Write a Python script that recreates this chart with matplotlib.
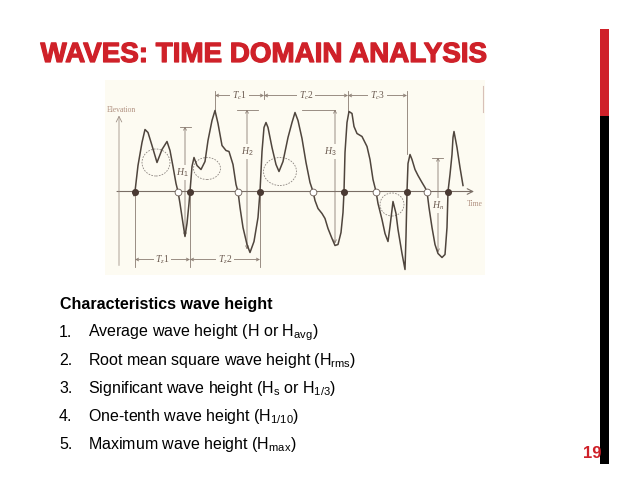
import matplotlib
matplotlib.use("Agg")
import matplotlib.pyplot as plt
from matplotlib.patches import Ellipse, Rectangle
import matplotlib.patheffects as pe

plt.rcParams['font.family'] = ['Liberation Sans', 'DejaVu Sans']
plt.rcParams['mathtext.fontset'] = 'custom'
plt.rcParams['mathtext.rm'] = 'Liberation Sans'
plt.rcParams['mathtext.it'] = 'Liberation Serif:italic'
plt.rcParams['mathtext.bf'] = 'Liberation Sans:bold'

# ---------------- data ----------------
wave_time = [1.5, 1.6, 1.9, 2.3, 2.6, 2.9, 3.3, 3.8, 4.3, 4.8, 5.1, 5.4, 5.7, 5.9,
             6.1, 6.4, 6.6, 6.8, 7.0, 7.1, 7.3, 7.5, 7.8, 8.2, 8.6, 8.9, 9.3, 9.6,
             9.9, 10.3, 10.7, 11.0, 11.4, 11.7, 11.9, 12.1, 12.4, 12.8, 13.1, 13.5,
             13.9, 14.1, 14.3, 14.5, 14.7, 14.9, 15.3, 15.7, 16.0, 16.4, 16.9, 17.3,
             17.6, 17.9, 18.3, 18.7, 19.1, 19.4, 19.6, 19.9, 20.3, 20.6, 20.9, 21.3,
             21.6, 21.9, 22.2, 22.4, 22.5, 22.6, 22.8, 23.0, 23.3, 23.5, 23.8, 24.3,
             24.8, 25.1, 25.4, 25.7, 25.9, 26.3, 26.6, 26.9, 27.1, 27.4, 27.7, 27.9,
             28.3, 28.6, 28.7, 28.8, 28.9, 29.1, 29.3, 29.6, 29.9, 30.3, 30.6, 30.8,
             31.0, 31.3, 31.6, 31.9, 32.3, 32.6, 32.8, 32.9, 33.1, 33.3, 33.4, 33.5,
             33.8, 34.1, 34.4]
wave_elev = [-0.4, 0.0, 2.6, 4.9, 6.2, 5.9, 4.6, 2.9, 4.2, 5.0, 4.1, 2.5, 0.8, 0.0,
             -1.2, -3.2, -4.5, -3.2, -1.2, 0.0, 2.5, 3.4, 2.6, 2.2, 3.0, 5.1, 7.1, 8.1,
             6.8, 4.6, 4.1, 4.0, 2.7, 0.7, 0.0, -1.6, -3.6, -5.3, -6.1, -5.0,
             -2.6, 0.0, 4.0, 6.4, 6.9, 6.4, 4.4, 2.7, 2.0, 3.0, 5.4, 6.9,
             7.9, 7.1, 5.3, 2.9, 0.9, 0.0, -0.9, -1.7, -2.2, -2.7, -3.7, -4.7,
             -5.4, -5.3, -4.1, -2.1, 0.0, 3.9, 6.9, 8.0, 7.8, 6.5, 5.8, 5.5,
             4.5, 3.2, 1.2, 0.0, -1.2, -2.8, -4.2, -5.0, -3.5, -1.0, -2.2, -3.8,
             -6.2, -7.8, -4.5, 0.0, 2.8, 3.7, 3.2, 2.2, 1.6, 0.9, 0.4, 0.0,
             -1.6, -3.6, -5.3, -6.2, -6.6, -6.3, -3.6, 0.0, 1.7, 3.7, 5.4, 6.0,
             4.4, 2.4, 0.6]

up_crossings = [1.6, 7.1, 14.1, 22.5, 28.8, 32.9]
down_crossings = [5.9, 11.9, 19.4, 25.7, 30.8]

crest_marks = [9.6, 14.5, 22.9, 28.8]          # T_c boundaries
crest_mark_bottom = [8.1, 9.3, 8.0, 3.8]
tc_labels = ['$T_c$1', '$T_c$2', '$T_c$3']
tz_labels = ['$T_z$1', '$T_z$2']

h_time = [6.6, 12.8, 21.6, 31.9]
h_top = [6.5, 8.2, 8.2, 3.4]
h_bottom = [-4.5, -5.8, -5.2, -6.1]
h_cap_from = [6.1, 11.8, 18.3, 31.3]
h_cap_to = [7.2, 13.9, 21.6, 32.4]
h_labels = ['$H_1$', '$H_2$', '$H_3$', '$H_n$']
h_label_t = [6.3, 12.8, 21.1, 31.9]
h_label_e = [1.9, 4.0, 4.0, -1.4]

ell_t = [3.7, 8.8, 16.1, 27.3]
ell_e = [2.9, 2.3, 2.0, -1.3]
ell_w = [2.8, 2.7, 3.3, 2.4]
ell_h = [2.7, 2.2, 2.8, 2.3]

items = ['Average wave height (H or H$_\\mathrm{avg}$)',
         'Root mean square wave height (H$_\\mathrm{rms}$)',
         'Significant wave height (H$_\\mathrm{s}$ or H$_\\mathrm{1/3}$)',
         'One-tenth wave height (H$_\\mathrm{1/10}$)',
         'Maximum wave height (H$_\\mathrm{max}$)']

RED = '#cf2129'
W, H = 638, 493
fig = plt.figure(figsize=(W / 100, H / 100), dpi=100)
fig.patch.set_facecolor('white')

# ---------------- slide overlay ----------------
ov = fig.add_axes([0, 0, 1, 1])
ov.set_xlim(0, W)
ov.set_ylim(H, 0)
ov.axis('off')
ov.add_patch(Rectangle((600, 29), 9, 87, color=RED, lw=0))
ov.add_patch(Rectangle((600, 116), 9, 348, color='black', lw=0))
ov.text(40.5, 62, 'WAVES: TIME DOMAIN ANALYSIS', color=RED, fontsize=20,
        fontweight='bold', ha='left', va='baseline',
        path_effects=[pe.withStroke(linewidth=0.9, foreground=RED)])
ov.text(601, 458, '19', color=RED, fontsize=12, fontweight='bold',
        ha='right', va='baseline')
ov.text(60, 309, 'Characteristics wave height', fontsize=11.5,
        fontweight='bold', ha='left', va='baseline', color='black')
for i, s in enumerate(items):
    yb = 337 + 28 * i
    ov.text(59, yb, f'{i + 1}.', fontsize=11.5, ha='left', va='baseline')
    ov.text(88, yb, s, fontsize=11.5, ha='left', va='baseline')

# ---------------- scanned-figure axes ----------------
x0, y0, x1, y1 = 105, 80, 485, 275
ax = fig.add_axes([x0 / W, (H - y1) / H, (x1 - x0) / W, (y1 - y0) / H])
BG = '#fdfbf2'
ax.set_facecolor(BG)
ax.set_xlim(-1.4, 36.6)
ax.set_ylim(-8.35, 11.15)
for sp in ax.spines.values():
    sp.set_visible(False)
ax.set_xticks([])
ax.set_yticks([])

LC = '#4f453d'
AC = '#8a7c72'
TC = '#6b5a50'

# axes of the sketch
ax.annotate('', xy=(35.5, 0), xytext=(-0.2, 0),
            arrowprops=dict(arrowstyle='->', lw=0.8, color='#7a6e66',
                            shrinkA=0, shrinkB=0))
ax.annotate('', xy=(0, 7.6), xytext=(0, -7.4),
            arrowprops=dict(arrowstyle='->', lw=0.6, color='#a09288',
                            shrinkA=0, shrinkB=0))
ax.text(-1.2, 8.2, 'Elevation', fontsize=5.5, color='#b09080',
        family='Liberation Serif', ha='left', va='center')
ax.text(34.8, -1.3, 'Time', fontsize=5.5, color='#b09080',
        family='Liberation Serif', ha='left', va='center')
ax.plot([36.4, 36.4], [8.0, 10.6], color='#d8c0b8', lw=0.8)

# wave record
ax.plot(wave_time, wave_elev, color=LC, lw=1.1, zorder=4)

# dashed ellipses
for t, e, w, h in zip(ell_t, ell_e, ell_w, ell_h):
    ax.add_patch(Ellipse((t, e), w, h, fill=False, ls=(0, (2, 1.5)),
                         lw=0.6, ec='#8c8580', zorder=3))

# crossing markers
ax.scatter(up_crossings, [0] * len(up_crossings), s=26, color='#4a3a33',
           zorder=6, lw=0)
ax.scatter(down_crossings, [0] * len(down_crossings), s=24, facecolor='white',
           edgecolor='#6b5d55', lw=0.6, zorder=6)

# T_z dimension line
tz_e = -6.8
for t in up_crossings[:3]:
    ax.plot([t, t], [0, -7.5], color=AC, lw=0.6, zorder=2)
for i in range(2):
    a, b = up_crossings[i], up_crossings[i + 1]
    ax.annotate('', xy=(b, tz_e), xytext=(a, tz_e),
                arrowprops=dict(arrowstyle='<->', lw=0.6, color=AC,
                                shrinkA=0, shrinkB=0, mutation_scale=5))
    ax.text((a + b) / 2, tz_e, tz_labels[i], fontsize=7, color=TC,
            family='Liberation Serif', ha='center', va='center',
            bbox=dict(fc=BG, ec='none', pad=1.2), zorder=5)

# T_c dimension line
tc_e = 9.6
for t, bot in zip(crest_marks, crest_mark_bottom):
    ax.plot([t, t], [10.1, bot], color=AC, lw=0.6, zorder=2)
for i in range(3):
    a, b = crest_marks[i], crest_marks[i + 1]
    ax.annotate('', xy=(b, tc_e), xytext=(a, tc_e),
                arrowprops=dict(arrowstyle='<->', lw=0.6, color=AC,
                                shrinkA=0, shrinkB=0, mutation_scale=5))
    ax.text((a + b) / 2, tc_e, tc_labels[i], fontsize=7, color=TC,
            family='Liberation Serif', ha='center', va='center',
            bbox=dict(fc=BG, ec='none', pad=1.2), zorder=5)

# wave height markers
for t, top, bot, c0, c1, lab, lt, le in zip(h_time, h_top, h_bottom, h_cap_from,
                                             h_cap_to, h_labels, h_label_t, h_label_e):
    ax.plot([c0, c1], [top, top], color=AC, lw=0.6, zorder=2)
    ax.annotate('', xy=(t, bot), xytext=(t, top),
                arrowprops=dict(arrowstyle='<->', lw=0.6, color=AC,
                                shrinkA=0, shrinkB=0, mutation_scale=5), zorder=2)
    ax.text(lt, le, lab, fontsize=7, color=TC, family='Liberation Serif',
            ha='center', va='center', bbox=dict(fc=BG, ec='none', pad=0.8),
            zorder=3)

fig.savefig('out.png', dpi=100, facecolor='white')
